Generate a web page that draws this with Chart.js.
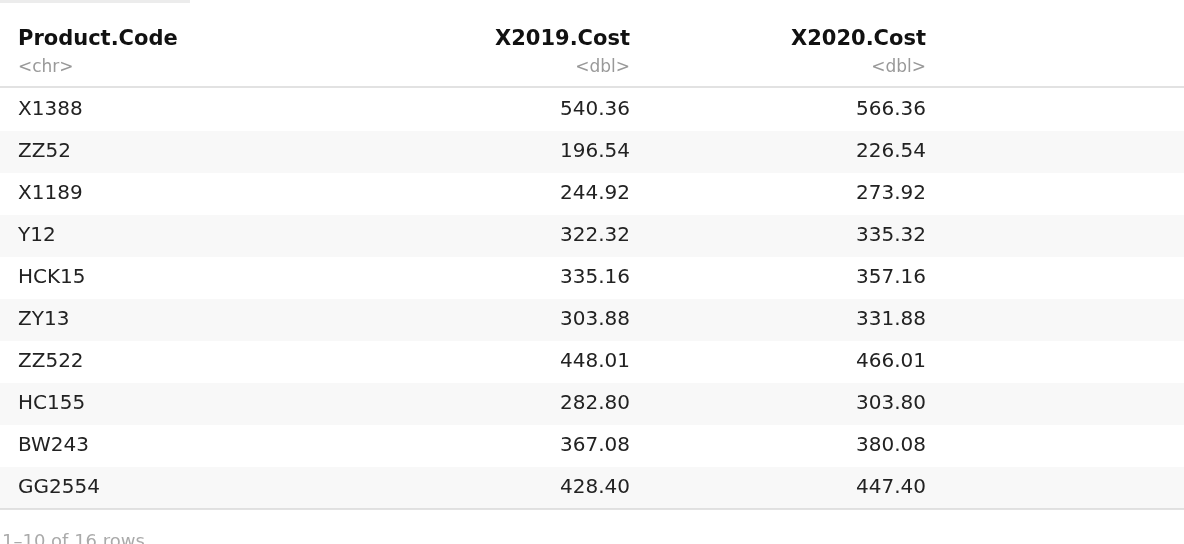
<!DOCTYPE html>
<html><head><meta charset="utf-8">
<script src="https://cdn.jsdelivr.net/npm/chart.js@4"></script>
<style>html,body{margin:0;padding:0;background:#fff}#w{width:1184px;height:544px}</style>
</head><body><div id="w"><canvas id="c"></canvas></div>
<script>
const columns = ["Product.Code", "X2019.Cost", "X2020.Cost"];
const types = ["<chr>", "<dbl>", "<dbl>"];
const codes = ["X1388","ZZ52","X1189","Y12","HCK15","ZY13","ZZ522","HC155","BW243","GG2554"];
const cost2019 = [540.36,196.54,244.92,322.32,335.16,303.88,448.01,282.80,367.08,428.40];
const cost2020 = [566.36,226.54,273.92,335.32,357.16,331.88,466.01,303.80,380.08,447.40];
const footer = "1–10 of 16 rows";

const FONT = '"DejaVu Sans", "Open Sans", sans-serif';
const tablePlugin = {
  id: 'tbl',
  beforeDatasetsDraw(chart) {
    const ctx = chart.ctx, x = chart.scales.x, y = chart.scales.y;
    const L = x.getPixelForValue(0), R = x.getPixelForValue(1184);
    const colLeft = x.getPixelForValue(18);
    const colR = [x.getPixelForValue(630), x.getPixelForValue(926)];
    const rowH = y.getPixelForValue(1) - y.getPixelForValue(0);
    ctx.save();
    // tab remnant
    ctx.fillStyle = '#ececec';
    ctx.fillRect(0, 0, 190, 3);
    // striped rows
    codes.forEach((c, i) => {
      if (i % 2 === 1) {
        ctx.fillStyle = '#f8f8f8';
        ctx.fillRect(L, y.getPixelForValue(i) - rowH / 2, R - L, rowH);
      }
    });
    // lines
    ctx.strokeStyle = '#d9d9d9'; ctx.lineWidth = 1.5;
    [[-0.55],[codes.length - 0.5]].forEach(([v]) => {
      const p = y.getPixelForValue(v);
      ctx.beginPath(); ctx.moveTo(L, p); ctx.lineTo(R, p); ctx.stroke();
    });
    ctx.textBaseline = 'middle';
    // header
    const hy = y.getPixelForValue(-1.67), ty = y.getPixelForValue(-1.02);
    ctx.font = 'bold 21px ' + FONT; ctx.fillStyle = '#111';
    ctx.textAlign = 'left'; ctx.fillText(columns[0], colLeft, hy);
    ctx.textAlign = 'right'; ctx.fillText(columns[1], colR[0], hy); ctx.fillText(columns[2], colR[1], hy);
    ctx.font = '17px ' + FONT; ctx.fillStyle = '#999';
    ctx.textAlign = 'left'; ctx.fillText(types[0], colLeft, ty);
    ctx.textAlign = 'right'; ctx.fillText(types[1], colR[0], ty); ctx.fillText(types[2], colR[1], ty);
    // body
    ctx.font = '20px ' + FONT; ctx.fillStyle = '#222';
    codes.forEach((c, i) => {
      const py = y.getPixelForValue(i);
      ctx.textAlign = 'left'; ctx.fillText(c, colLeft, py);
      ctx.textAlign = 'right';
      ctx.fillText(cost2019[i].toFixed(2), colR[0], py);
      ctx.fillText(cost2020[i].toFixed(2), colR[1], py);
    });
    ctx.font = '18px ' + FONT; ctx.fillStyle = '#aaa'; ctx.textAlign = 'left';
    ctx.fillText(footer, 2, y.getPixelForValue(10.3));
    ctx.restore();
  }
};
new Chart(document.getElementById('c'), {
  type: 'scatter',
  data: { datasets: [{ data: codes.map((c, i) => ({ x: 18, y: i })), pointRadius: 0 }] },
  options: {
    responsive: true, maintainAspectRatio: false, animation: false,
    layout: { padding: 0 },
    plugins: { legend: { display: false }, tooltip: { enabled: false } },
    scales: {
      x: { type: 'linear', min: 0, max: 1184, display: false },
      y: { type: 'linear', min: -110 / 42, max: -110 / 42 + 544 / 42, reverse: true, display: false }
    }
  },
  plugins: [tablePlugin]
});
</script></body></html>
